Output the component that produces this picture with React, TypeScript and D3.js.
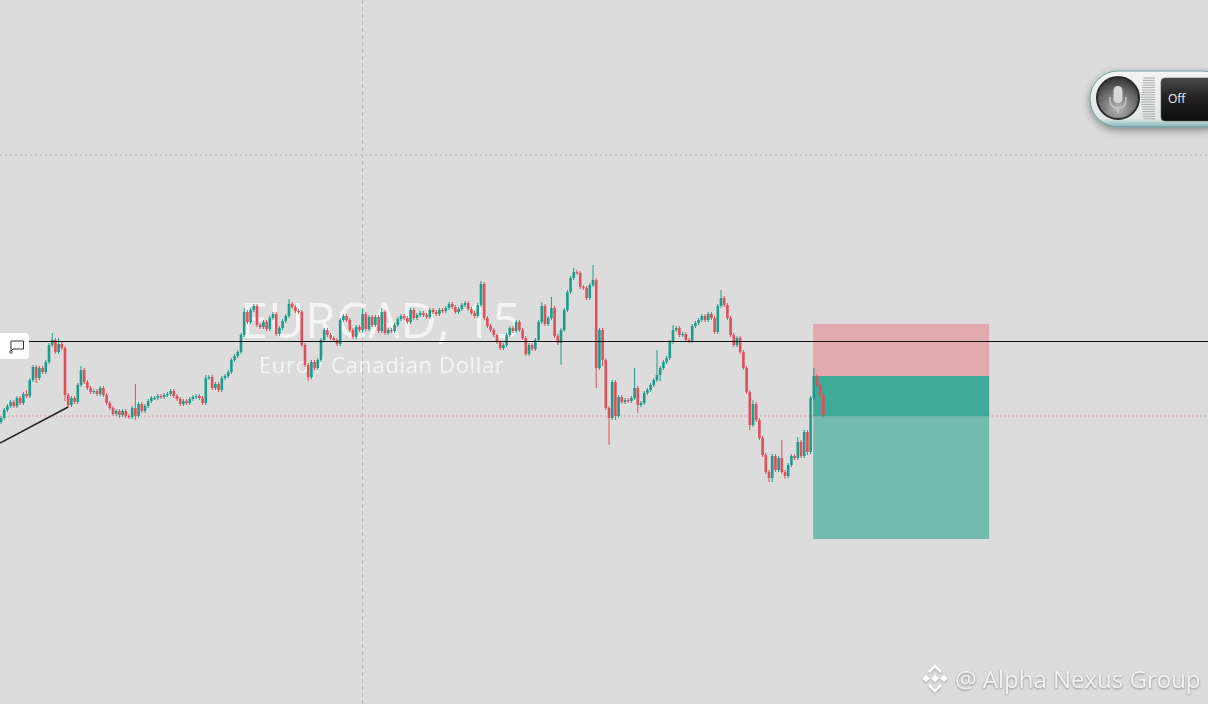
import * as d3 from "d3";

const width = 1208;
const height = 704;

// closes, in pips above the bottom of the pane
const closes = [
  286, 294, 298, 302, 298, 306, 301, 310, 308, 324,
  337, 326, 336, 332, 342, 359, 364, 352, 360, 356,
  309, 299, 306, 302, 319, 334, 322, 316, 312, 313,
  310, 316, 309, 301, 296, 290, 293, 289, 293, 288,
  287, 296, 288, 300, 293, 298, 303, 306, 306, 308,
  307, 309, 310, 313, 308, 305, 300, 303, 301, 305,
  307, 308, 306, 301, 326, 327, 316, 320, 314, 326,
  328, 332, 344, 348, 352, 369, 392, 382, 394, 398,
  379, 377, 382, 375, 386, 390, 370, 376, 383, 388,
  400, 397, 393, 392, 359, 339, 327, 342, 336, 344,
  364, 374, 369, 366, 364, 360, 384, 388, 384, 374,
  367, 377, 374, 390, 375, 387, 379, 387, 373, 392,
  371, 374, 373, 379, 385, 388, 386, 382, 394, 386,
  389, 391, 389, 387, 394, 392, 390, 394, 393, 396,
  400, 397, 392, 395, 399, 401, 395, 391, 388, 399,
  420, 386, 378, 374, 369, 362, 356, 359, 369, 376,
  373, 382, 374, 366, 350, 359, 355, 364, 382, 398,
  380, 386, 396, 368, 361, 374, 394, 412, 426, 432,
  431, 417, 416, 406, 419, 424, 336, 374, 344, 296,
  286, 322, 288, 307, 302, 304, 303, 306, 316, 299,
  301, 311, 314, 319, 324, 329, 336, 342, 346, 362,
  374, 376, 369, 370, 364, 363, 378, 381, 384, 388,
  384, 390, 386, 372, 398, 406, 399, 386, 369, 359,
  366, 352, 336, 312, 279, 300, 284, 266, 249, 232,
  226, 248, 234, 246, 232, 228, 239, 248, 246, 262,
  248, 272, 252, 306, 328, 319, 309, 289,
];
const firstOpen = 282;

// wicks that stick out, candle index -> length in pips
const upperWicks: Record<number, number> = {
  8: 4, 16: 7, 18: 6, 25: 4, 42: 24, 64: 3, 76: 4, 90: 5, 113: 5, 119: 4,
  150: 3, 169: 4, 172: 11, 179: 4, 185: 15, 198: 20, 205: 25, 210: 5,
  225: 8, 235: 4, 244: 18, 249: 5, 254: 8,
};
const lowerWicks: Record<number, number> = {
  11: 5, 20: 6, 37: 3, 42: 4, 96: 4, 175: 22, 186: 20, 188: 6, 190: 27,
  192: 4, 199: 8, 206: 6, 234: 5, 240: 4, 241: 4, 245: 3, 252: 3,
};
const defaultWick = 2;

const levelPrice = 362;
const upperGridPrice = 549;
const currentPrice = 288;
const stopPrice = 380;
const entryPrice = 328;
const targetPrice = 165;
const positionStart = 253.8;
const positionEnd = 308.8;
const trendStart = [-0.3, 261];
const trendEnd = [21, 297];
const sessionIndex = 113;

const upColor = "#1f9d8a";
const downColor = "#df4f5b";

const x = d3.scaleLinear().domain([0, 257]).range([1, 823.4]);
const y = d3.scaleLinear().domain([0, height]).range([height, 0]);

const candles = closes.map((close, i) => {
  const open = i === 0 ? firstOpen : closes[i - 1];
  return {
    i,
    open,
    close,
    high: Math.max(open, close) + (upperWicks[i] ?? defaultWick),
    low: Math.min(open, close) - (lowerWicks[i] ?? defaultWick),
  };
});

const trendLine = d3.line<number[]>()
  .x((d) => x(d[0]))
  .y((d) => y(d[1]));

const stripes = d3.range(78, 120, 2.4);

const App = () => {
  return (
    <svg
      width={width}
      height={height}
      style={{ position: "absolute", left: 0, top: 0, background: "#dcdcdc" }}
    >
      <defs>
        <filter id="soft" x="-5%" y="-5%" width="110%" height="110%">
          <feGaussianBlur stdDeviation="0.5" />
        </filter>
        <filter id="shadow" x="-20%" y="-30%" width="140%" height="170%">
          <feDropShadow dx="0" dy="3" stdDeviation="4" floodColor="#000" floodOpacity="0.4" />
        </filter>
        <radialGradient id="micBall" cx="50%" cy="75%" r="70%">
          <stop offset="0%" stopColor="#b9b9b9" />
          <stop offset="60%" stopColor="#6e6e6e" />
          <stop offset="100%" stopColor="#3a3a3a" />
        </radialGradient>
        <linearGradient id="offBtn" x1="0" y1="0" x2="0" y2="1">
          <stop offset="0%" stopColor="#4a4a4a" />
          <stop offset="45%" stopColor="#222" />
          <stop offset="100%" stopColor="#0d0d0d" />
        </linearGradient>
        <linearGradient id="pill" x1="0" y1="0" x2="0" y2="1">
          <stop offset="0%" stopColor="#f4f4f4" />
          <stop offset="85%" stopColor="#e2e6e6" />
          <stop offset="100%" stopColor="#7fb5b5" />
        </linearGradient>
      </defs>

      {/* grid */}
      <line x1={0} x2={width} y1={y(upperGridPrice)} y2={y(upperGridPrice)}
        stroke="#b4b4b4" strokeDasharray="2 3" />
      <line x1={x(sessionIndex)} x2={x(sessionIndex)} y1={0} y2={height}
        stroke="#b4b4b4" strokeDasharray="4 3" />

      {/* symbol watermark */}
      <g fill="#ffffff" fontFamily="'Open Sans', sans-serif" opacity={0.7}>
        <text x={240} y={338} fontSize={50} letterSpacing={0.4}>EURCAD, 15</text>
        <text x={259} y={373} fontSize={22} letterSpacing={0.65}>Euro / Canadian Dollar</text>
      </g>

      <line x1={0} x2={width} y1={y(currentPrice)} y2={y(currentPrice)}
        stroke="#e2a3a3" strokeDasharray="2 2" />

      {/* short position tool */}
      <rect x={x(positionStart)} width={x(positionEnd) - x(positionStart)}
        y={y(stopPrice)} height={y(entryPrice) - y(stopPrice)}
        fill="#f23645" fillOpacity={0.3} />
      <rect x={x(positionStart)} width={x(positionEnd) - x(positionStart)}
        y={y(entryPrice)} height={y(targetPrice) - y(entryPrice)}
        fill="#089981" fillOpacity={0.49} />
      <rect x={x(positionStart)} width={x(positionEnd) - x(positionStart)}
        y={y(entryPrice)} height={y(currentPrice) - y(entryPrice)}
        fill="#089981" fillOpacity={0.49} />

      {/* candles */}
      <g filter="url(#soft)">
        {candles.map((d) => {
          const color = d.close >= d.open ? upColor : downColor;
          return (
            <g key={d.i}>
              <line x1={x(d.i)} x2={x(d.i)} y1={y(d.high)} y2={y(d.low)}
                stroke={color} strokeWidth={1} />
              <rect
                x={x(d.i) - 1.3}
                y={y(Math.max(d.open, d.close))}
                width={2.6}
                height={Math.max(1.2, Math.abs(y(d.open) - y(d.close)))}
                fill={color}
              />
            </g>
          );
        })}
      </g>

      {/* level and trend line */}
      <line x1={0} x2={width} y1={y(levelPrice) - 0.5} y2={y(levelPrice) - 0.5} stroke="#111" strokeWidth={1} />
      <path d={trendLine([trendStart, trendEnd]) ?? ""} stroke="#222" strokeWidth={1.5} fill="none" />

      {/* flag label */}
      <rect x={-6} y={333} width={35} height={26} rx={4} fill="#ffffff" />
      <path d="M11 351 V341 H23.5 V349 H13 L11 351" fill="none" stroke="#333" strokeWidth={1} />
      <circle cx={11} cy={352} r={1.3} fill="#fff" stroke="#333" strokeWidth={0.8} />

      {/* speech widget */}
      <g>
        <rect x={1090} y={71} width={140} height={56} rx={28} fill="url(#pill)"
          stroke="#5d8f90" strokeWidth={0.8} filter="url(#shadow)" />
        {stripes.map((s) => (
          <line key={s} x1={1141 + Math.abs(s - 99) * 0.12} x2={1155} y1={s} y2={s}
            stroke="#9a9a9a" strokeWidth={0.8} />
        ))}
        <circle cx={1118} cy={98} r={21} fill="url(#micBall)" stroke="#2b2b2b" strokeWidth={2} />
        <rect x={1113.5} y={86} width={9} height={17} rx={4.5} fill="#d8d8d8" />
        <path d="M1110 97 V100 Q1110 108 1118 108 Q1126 108 1126 100 V97 M1118 108 V113"
          fill="none" stroke="#c4c4c4" strokeWidth={1.4} />
        <rect x={1161} y={78} width={60} height={43} rx={4} fill="url(#offBtn)" stroke="#555" strokeWidth={0.6} />
        <text x={1168} y={103} fontSize={12} fill="#f0f0f0" fontFamily="'Open Sans', sans-serif">Off</text>
      </g>

      {/* corner tag */}
      <g fill="none" stroke="#ffffff" strokeWidth={2.6} style={{ filter: "drop-shadow(0 1px 1px #a0a0a0)" }}>
        <path d="M929 672 L935 666 L941 672" />
        <path d="M929 685 L935 691 L941 685" />
        <path d="M924 678.5 L926 676.5 L928 678.5 L926 680.5 Z" />
        <path d="M942 678.5 L944 676.5 L946 678.5 L944 680.5 Z" />
        <path d="M933 678.5 L935 676.5 L937 678.5 L935 680.5 Z" />
      </g>
      <text x={955} y={688} fontSize={24} fill="#f2f2f2" fontFamily="'Open Sans', sans-serif"
        style={{ filter: "drop-shadow(0 1px 1px #8c8c8c)" }}>
        @ Alpha Nexus Group
      </text>
    </svg>
  );
};

export default App;
